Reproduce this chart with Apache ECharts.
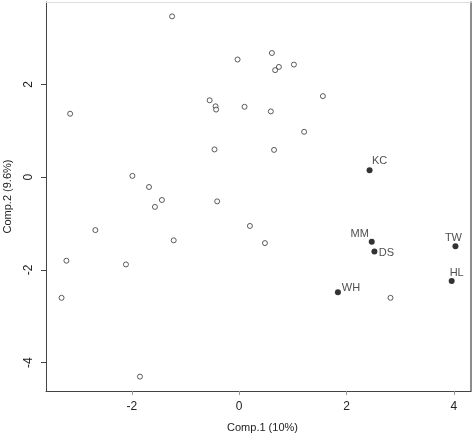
<!DOCTYPE html>
<html>
<head>
<meta charset="utf-8">
<script src="https://cdn.jsdelivr.net/npm/echarts@6/dist/echarts.min.js"></script>
<style>
html,body{margin:0;padding:0;background:#fff;}
#chart{width:474px;height:439px;}
</style>
</head>
<body>
<div id="chart"></div>
<script>
// Open circles (other samples)
const openX = [-1.25, -0.03, -3.15, -0.55, -0.44, -0.43, -0.46, -1.99, -1.68, -1.44, -1.57, -0.41,
               0.61, 0.74, 0.67, 1.02, 1.56, 0.10, 0.59, 1.21, 0.65,
               -2.68, -1.22, -3.22, -2.11, -3.31, -1.85, 0.20, 0.48, 2.82];
const openY = [3.47, 2.54, 1.37, 1.66, 1.53, 1.46, 0.60, 0.03, -0.21, -0.49, -0.64, -0.52,
               2.68, 2.38, 2.31, 2.43, 1.75, 1.52, 1.42, 0.98, 0.59,
               -1.14, -1.36, -1.80, -1.88, -2.60, -4.30, -1.05, -1.42, -2.60];
// Filled, labelled samples
const filledNames = ["KC", "MM", "DS", "TW", "HL", "WH"];
const filledX = [2.43, 2.47, 2.52, 4.03, 3.96, 1.84];
const filledY = [0.15, -1.39, -1.60, -1.49, -2.24, -2.48];
const xTicks = [-2, 0, 2, 4];
const yTicks = [-4, -2, 0, 2];
const xTitle = "Comp.1 (10%)";
const yTitle = "Comp.2 (9.6%)";

const labelOffsets = {KC:[10,-9], MM:[-12,-8], DS:[12,1.5], TW:[-2,-8], HL:[5,-8], WH:[13,-4]};

const font = "'Liberation Sans', Arial, Helvetica, sans-serif";
const chart = echarts.init(document.getElementById('chart'), null, {renderer:'canvas'});

const openData = openX.map((x,i)=>[x, openY[i]]);
const filledData = filledX.map((x,i)=>({
  name: filledNames[i],
  value: [x, filledY[i]],
  label: {offset: labelOffsets[filledNames[i]]}
}));

const XMIN = -3.6, XMAX = 4.32, YMIN = -4.61, YMAX = 3.78;

chart.setOption({
  animation: false,
  backgroundColor: '#fff',
  grid: {left: 46, top: 2, right: 3, bottom: 48, containLabel: false, outerBoundsMode: 'none'},
  xAxis: [{
    type: 'value', min: XMIN, max: XMAX,
    name: xTitle, nameLocation: 'middle', nameGap: 31,
    nameTextStyle: {fontFamily: font, fontSize: 11, color: '#222', padding:[0,0,0,8]},
    axisLine: {show: true, onZero: false, lineStyle: {color: '#444', width: 1}},
    axisTick: {show: true, length: 4, customValues: xTicks, lineStyle: {color: '#999'}},
    axisLabel: {customValues: xTicks, fontFamily: font, fontSize: 12, color: '#222', margin: 10},
    splitLine: {show: false}
  }, {
    type: 'value', min: XMIN, max: XMAX, position: 'top',
    axisLine: {show: true, onZero: false, lineStyle: {color: '#dddddd', width: 1}},
    axisTick: {show: false}, axisLabel: {show: false}, splitLine: {show: false}
  }],
  yAxis: [{
    type: 'value', min: YMIN, max: YMAX,
    name: yTitle, nameLocation: 'middle', nameGap: 33, nameRotate: 90,
    nameTextStyle: {fontFamily: font, fontSize: 11, color: '#222'},
    axisLine: {show: true, onZero: false, lineStyle: {color: '#444', width: 1}},
    axisTick: {show: true, length: 5, customValues: yTicks, lineStyle: {color: '#444'}},
    axisLabel: {customValues: yTicks, rotate: 90, fontFamily: font, fontSize: 12, color: '#222', margin: 11},
    splitLine: {show: false}
  }, {
    type: 'value', min: YMIN, max: YMAX, position: 'right',
    axisLine: {show: true, onZero: false, lineStyle: {color: '#666', width: 1.5}},
    axisTick: {show: false}, axisLabel: {show: false}, splitLine: {show: false}
  }],
  series: [
    {
      type: 'scatter', data: openData, symbol: 'circle', symbolSize: 5,
      itemStyle: {color: '#fff', borderColor: '#333', borderWidth: 1},
      silent: true
    },
    {
      type: 'scatter', data: filledData, symbol: 'circle', symbolSize: 6,
      itemStyle: {color: '#000'},
      label: {show: true, position: 'inside', formatter: p => p.name,
              fontFamily: font, fontSize: 11, color: '#222'},
      silent: true
    }
  ]
});
</script>
</body>
</html>
